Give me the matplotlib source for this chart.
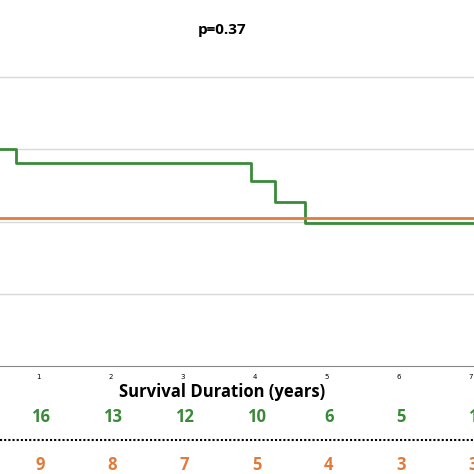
import matplotlib
matplotlib.use("Agg")
import matplotlib.pyplot as plt

green_t = [0, 0.7, 3.95, 4.29, 4.7, 7.2]
green_s = [0.6, 0.563, 0.513, 0.455, 0.396, 0.396]
orange_t = [0, 7.2]
orange_s = [0.41, 0.41]
ticks = [1, 2, 3, 4, 5, 6, 7]
risk_green = ["16", "13", "12", "10", "6", "5", "1"]
risk_orange = ["9", "8", "7", "5", "4", "3", "3"]

W = 474
fig = plt.figure(figsize=(4.74, 4.74), dpi=100)
x0, x7, xr = -34, 471, 480
ytop, ybot = 5, 366
ax = fig.add_axes([x0 / W, 1 - ybot / W, (xr - x0) / W, (ybot - ytop) / W])
ax.set_xlim(0, 7 * (xr - x0) / (x7 - x0))
ax.set_ylim(0, 1)
ax.step(green_t, green_s, where="post", color="#3a8a3a", lw=2)
ax.step(orange_t, orange_s, where="post", color="#e07b3c", lw=2)
for y in [0.2, 0.4, 0.6, 0.8]:
    ax.axhline(y, color="#d9d9d9", lw=1, zorder=0)
for s in ["top", "right", "left"]:
    ax.spines[s].set_visible(False)
ax.spines["bottom"].set_color("#888888")
ax.set_xticks(ticks)
ax.set_xticklabels([str(t) for t in ticks], fontsize=5)
ax.tick_params(axis="x", length=0, pad=6)
ax.set_yticks([])
ax.text(3.55, 0.93, "p=0.37", ha="center", va="center", fontsize=11, fontweight="bold",
        family="Open Sans")
fig.text(222 / W, 1 - 392 / W, "Survival Duration (years)", ha="center", va="center",
         fontsize=12, fontweight="bold", family="Open Sans")
for i, t in enumerate(ticks):
    xp = (x0 + (x7 - x0) * t / 7 + 2) / W
    fig.text(xp, 1 - 417 / W, risk_green[i], ha="center", va="center", fontsize=12,
             fontweight="bold", color="#3a8a3a", family="Open Sans")
    fig.text(xp, 1 - 465 / W, risk_orange[i], ha="center", va="center", fontsize=12,
             fontweight="bold", color="#e07b3c", family="Open Sans")
fig.add_artist(plt.Line2D([0, 1], [1 - 440 / W] * 2, color="black", lw=1.5, ls=(0, (1, 1))))
fig.savefig("out.png", dpi=100)
